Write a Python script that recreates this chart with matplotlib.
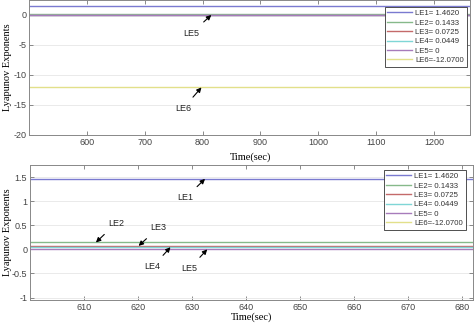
import matplotlib
matplotlib.use("Agg")
import matplotlib.pyplot as plt

plt.rcParams["axes.unicode_minus"] = False

# Converged Lyapunov exponents
labels = ["LE1", "LE2", "LE3", "LE4", "LE5", "LE6"]
values = [1.4620, 0.1433, 0.0725, 0.0449, 0.0, -12.0700]
legend_text = ["LE1= 1.4620", "LE2= 0.1433", "LE3= 0.0725",
               "LE4= 0.0449", "LE5= 0", "LE6=-12.0700"]
colors = ["#7a7ad0", "#86b98a", "#c46a6a", "#7fd6d6", "#a77bbb", "#e2e08a"]

# time spans of the two views
t_top = [500, 1262]
t_bottom = [600, 682]

top_xticks = [600, 700, 800, 900, 1000, 1100, 1200]
top_yticks = [-20, -15, -10, -5, 0]
bot_xticks = [610, 620, 630, 640, 650, 660, 670, 680]
bot_yticks = [-1, -0.5, 0, 0.5, 1, 1.5]
bot_yticklabels = ["-1", "-0.5", "0", "0.5", "1", "1.5"]

W, H = 474, 327
fig = plt.figure(figsize=(W / 100, H / 100), dpi=100)


def px_axes(l, t, r, b):
    return fig.add_axes([l / W, 1 - b / H, (r - l) / W, (b - t) / H])


ax1 = px_axes(29, 0, 470, 135)
ax2 = px_axes(30, 165, 473, 300)

tick_color = "#444444"
serif = ["Liberation Serif", "DejaVu Serif"]
sans = ["Liberation Sans", "DejaVu Sans"]


def style(ax, xticks, yticks, yticklabels=None):
    ax.set_xticks(xticks)
    ax.set_yticks(yticks)
    if yticklabels is not None:
        ax.set_yticklabels(yticklabels)
    ax.tick_params(direction="in", length=3, width=0.6, top=True, right=True,
                   labelsize=6.5, colors="#777777", labelcolor=tick_color, pad=2)
    for lab in ax.get_xticklabels() + ax.get_yticklabels():
        lab.set_fontfamily(sans)
    for s in ax.spines.values():
        s.set_color("#888888")
        s.set_linewidth(0.7)
    ax.yaxis.grid(True, color="#e6e6e6", linewidth=0.6)
    ax.set_axisbelow(True)
    ax.set_xlabel("Time(sec)", fontfamily=serif, fontsize=7.5, va="center")
    ax.set_ylabel("Lyapunov Exponents", fontfamily=serif, fontsize=7.5,
                  va="center")


for ax, t in ((ax1, t_top), (ax2, t_bottom)):
    for v, c, lt in zip(values, colors, legend_text):
        ax.plot(t, [v, v], color=c, linewidth=1.0, label=lt)
    ax.set_xlim(t)

ax1.set_ylim(-20, 2.5)
ax2.set_ylim(-1.05, 1.75)
style(ax1, top_xticks, top_yticks)
style(ax2, bot_xticks, bot_yticks, bot_yticklabels)
ax1.xaxis.set_label_coords(0.503, -0.163)
ax2.xaxis.set_label_coords(0.50, -0.13)
ax1.yaxis.set_label_coords(-0.048, 0.5)
ax2.yaxis.set_label_coords(-0.05, 0.5)

for ax, anchor in ((ax1, (0.993, 0.948)), (ax2, (0.984, 0.963))):
    leg = ax.legend(loc="upper right", bbox_to_anchor=anchor,
                    prop={"family": sans, "size": 5.6}, handlelength=3.2,
                    handletextpad=0.4, labelspacing=0.25, borderpad=0.35,
                    fancybox=False, framealpha=1, edgecolor="#333333",
                    borderaxespad=0)
    leg.get_frame().set_linewidth(0.6)
    for txt in leg.get_texts():
        txt.set_color("#333333")

arrow = dict(arrowstyle="-|>", color="black", lw=0.8, mutation_scale=7,
             shrinkA=4, shrinkB=0)


def mark(ax, name, x, xt, yt):
    y = values[labels.index(name)]
    ax.annotate(name, xy=(x, y), xytext=(xt, yt), ha="center", va="center",
                fontsize=6.5, fontfamily=sans, color="#222222",
                arrowprops=arrow)


mark(ax1, "LE5", 815, 781, -3.0)
mark(ax1, "LE6", 798, 766, -15.6)

mark(ax2, "LE1", 632.4, 628.8, 1.07)
mark(ax2, "LE2", 612.2, 615.9, 0.54)
mark(ax2, "LE3", 620.1, 623.8, 0.45)
mark(ax2, "LE4", 626.0, 622.7, -0.36)
mark(ax2, "LE5", 632.8, 629.5, -0.40)

fig.savefig("out.png", dpi=100)
